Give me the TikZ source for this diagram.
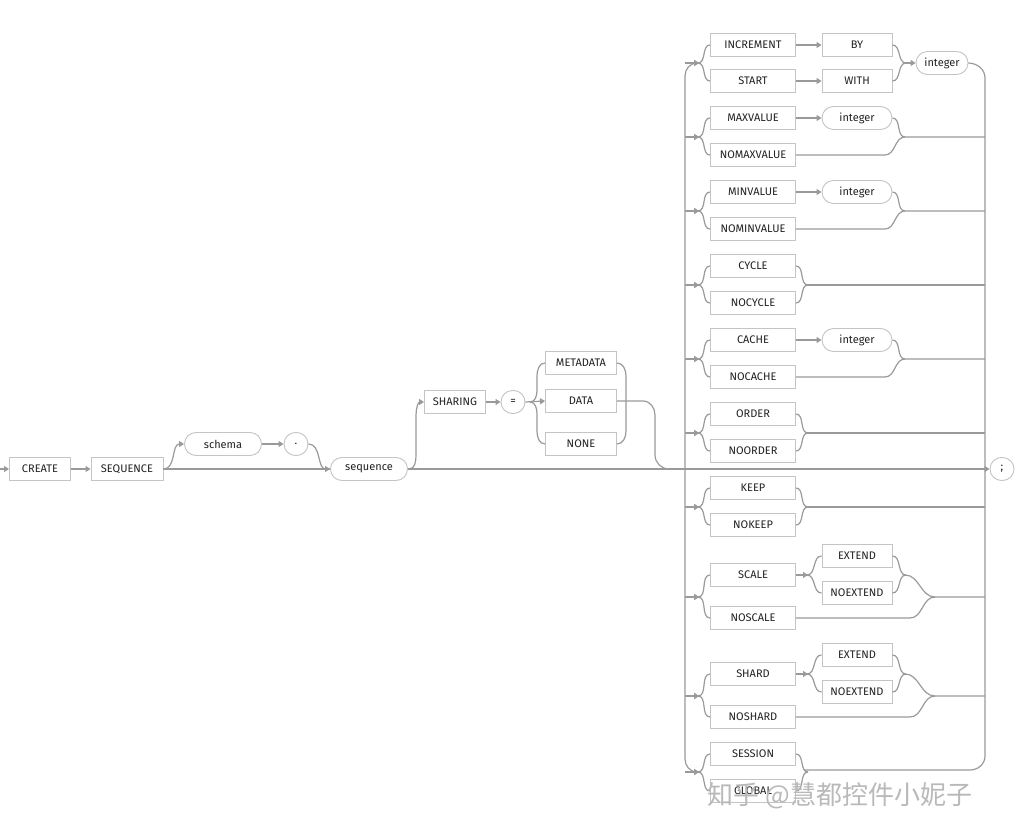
\documentclass[tikz,border=0pt]{standalone}
\usepackage{fontspec}
\setmainfont{Fira Sans}
\newfontfamily\cjk{Noto Sans CJK SC}
\usetikzlibrary{arrows.meta}
\definecolor{lnc}{HTML}{9A9A9A}
\definecolor{bxc}{HTML}{C4C4C4}
\definecolor{txc}{HTML}{222222}
\tikzset{
 ln/.style={draw=lnc,line width=1.2pt},
 arr/.style={-{Triangle[length=5pt,width=6pt]}},
 kw/.style={draw=bxc,fill=white,line width=0.9pt,minimum height=23pt,inner sep=2pt,text=txc,font=\fontsize{11}{13}\selectfont},
 kwA/.style={kw,minimum width=85pt},
 kwB/.style={kw,minimum width=70pt},
 nt/.style={kw,rounded corners=11.5pt},
}
\newcommand\inb[2]{\draw[ln,arr] (685,#1) -- (699,#1); \draw[ln] (698,#1) to[out=0,in=180] (#2.west);}
\begin{document}
\begin{tikzpicture}[x=1pt,y=-1pt]
\useasboundingbox (0,0) rectangle (1020,837);
% main row
\node[kw,minimum width=61pt] (create) at (40,469) {CREATE};
\node[kw,minimum width=72pt] (seq) at (127,469) {SEQUENCE};
\node[nt,minimum width=77pt] (schema) at (223,444) {schema};
\node[nt,minimum width=24pt] (dot) at (296,444) {.};
\node[nt,minimum width=77pt] (sequence) at (369,469) {sequence};
\node[kw,minimum width=61pt] (sharing) at (455,402) {SHARING};
\node[nt,minimum width=24pt] (eq) at (513,402) {=};
\node[kw,minimum width=71pt] (meta) at (581,363) {METADATA};
\node[kw,minimum width=71pt] (data) at (581,401) {DATA};
\node[kw,minimum width=71pt] (none) at (581,444) {NONE};
\node[nt,minimum width=24pt] (semi) at (1002,469) {;};
\coordinate (st) at (0,469);
\draw[ln,arr] (st) -- (create.west);
\draw[ln,arr] (create.east) -- (seq.west);
\draw[ln,arr] (seq.east) to[out=0,in=180] (schema.west);
\draw[ln,arr] (schema.east) -- (dot.west);
\draw[ln,arr] (dot.east) to[out=0,in=180] (sequence.west);
\draw[ln] (seq.east) -- (sequence.west);
\draw[ln,arr] (sequence.east) -- (semi.west);
\draw[ln,arr] (409,469) to[out=0,in=-90] (416,455) -- (416,415) to[out=90,in=180] (sharing.west);
\draw[ln,arr] (sharing.east) -- (eq.west);
\draw[ln,arr] (eq.east) -- (data.west);
\draw[ln] (530,402) to[out=0,in=-90] (537,390) -- (537,376) to[out=90,in=180] (meta.west);
\draw[ln] (530,402) to[out=0,in=90] (537,414) -- (537,431) to[out=-90,in=180] (none.west);
\draw[ln] (meta.east) to[out=0,in=90] (626,376) -- (626,431) to[out=-90,in=0] (none.east);
\draw[ln] (data.east) -- (643,401) to[out=0,in=90] (655,415) -- (655,455) to[out=-90,in=180] (669,469);
% options trunks
\draw[ln] (697,63) to[out=180,in=90] (685,76) -- (685,759) to[out=-90,in=180] (697,772);
\draw[ln] (968,63) to[out=0,in=90] (985,78) -- (985,756) to[out=-90,in=0] (970,770) -- (805,770);
% group 1
\node[kwA] (inc) at (753,45) {INCREMENT};
\node[kwA] (start) at (753,81) {START};
\node[kwB] (by) at (857,45) {BY};
\node[kwB] (with) at (857,81) {WITH};
\node[nt,minimum width=52pt] (int1) at (942,63) {integer};
\inb{63}{inc}\inb{63}{start}
\draw[ln,arr] (inc.east) -- (by.west);
\draw[ln,arr] (start.east) -- (with.west);
\draw[ln] (by.east) to[out=0,in=180] (906,63);
\draw[ln] (with.east) to[out=0,in=180] (906,63);
\draw[ln,arr] (905,63) -- (int1.west);
% value groups
\foreach \a/\b/\y/\ya/\yb/\nm in {MAXVALUE/NOMAXVALUE/137/118/155/mx, MINVALUE/NOMINVALUE/211/192/229/mn, CACHE/NOCACHE/359/340/377/ca}{
 \node[kwA] (\nm a) at (753,\ya) {\a};
 \node[kwA] (\nm b) at (753,\yb) {\b};
 \node[nt,minimum width=70pt] (\nm i) at (857,\ya) {integer};
 \inb{\y}{\nm a}\inb{\y}{\nm b}
 \draw[ln,arr] (\nm a.east) -- (\nm i.west);
 \draw[ln] (\nm i.east) to[out=0,in=180] (905,\y) -- (985,\y);
 \draw[ln] (\nm b.east) -- (885,\yb) to[out=0,in=180] (905,\y);
}
\foreach \a/\b/\y/\ya/\yb/\nm in {CYCLE/NOCYCLE/285/266/303/cy, ORDER/NOORDER/433/414/451/or, KEEP/NOKEEP/507/488/525/ke, SESSION/GLOBAL/772/754/791/se}{
 \node[kwA] (\nm a) at (753,\ya) {\a};
 \node[kwA] (\nm b) at (753,\yb) {\b};
 \inb{\y}{\nm a}\inb{\y}{\nm b}
 \draw[ln] (\nm a.east) to[out=0,in=180] (808,\y);
 \draw[ln] (\nm b.east) to[out=0,in=180] (808,\y);
}
\foreach \y in {285,433,507}{\draw[ln] (806,\y) -- (985,\y);}
% scale / shard
\foreach \a/\b/\y/\ya/\yb/\nm in {SCALE/NOSCALE/597/575/618/sc, SHARD/NOSHARD/696/674/717/sh}{
 \node[kwA] (\nm a) at (753,\ya) {\a};
 \node[kwA] (\nm b) at (753,\yb) {\b};
 \node[kwB] (\nm e) at (857,\ya-19) {EXTEND};
 \node[kwB] (\nm n) at (857,\ya+18) {NOEXTEND};
 \inb{\y}{\nm a}\inb{\y}{\nm b}
 \draw[ln,arr] (\nm a.east) -- (808,\ya);
 \draw[ln] (807,\ya) to[out=0,in=180] (\nm e.west);
 \draw[ln] (807,\ya) to[out=0,in=180] (\nm n.west);
 \draw[ln] (\nm e.east) to[out=0,in=180] (906,\ya);
 \draw[ln] (\nm n.east) to[out=0,in=180] (906,\ya);
 \draw[ln] (905,\ya) to[out=0,in=180] (935,\y) -- (985,\y);
 \draw[ln] (\nm b.east) -- (910,\yb) to[out=0,in=180] (935,\y);
}
% watermark
\node[text=gray!55,font=\cjk\fontsize{26}{30}\selectfont] (wm) at (840,796) {知乎 @慧都控件小妮子};
\end{tikzpicture}
\end{document}
